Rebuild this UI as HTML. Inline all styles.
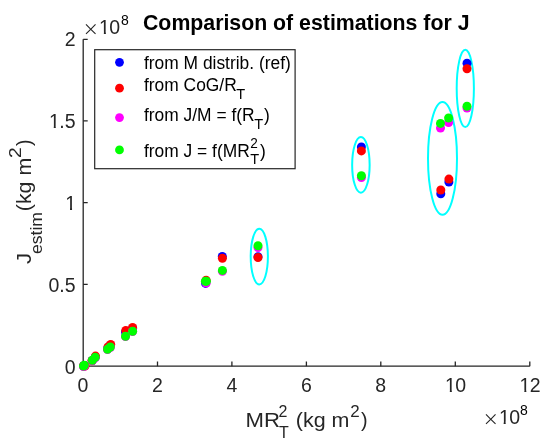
<!DOCTYPE html>
<html><head><meta charset="utf-8"><title>Comparison of estimations for J</title>
<style>
html,body{margin:0;padding:0;background:#fff;width:550px;height:444px;overflow:hidden}
svg{display:block}
text{font-family:"Liberation Sans",Arial,Helvetica,sans-serif;fill:#262626}
.t{font-size:19.5px}
.lg{font-size:17.4px;fill:#000}
.lgs{font-size:13.6px;fill:#000}
.lb{font-size:19.8px}
.lbs{font-size:16px}
.x{font-family:"Noto Sans CJK SC","Liberation Sans",sans-serif;font-size:16px}
.ttl{font-size:21.3px;font-weight:bold;fill:#000}
</style></head><body>
<svg width="550" height="444" viewBox="0 0 550 444">
<defs><clipPath id="c1" clipPathUnits="objectBoundingBox"><path d="M-0.2 -0.2H1.2V0.715H0.625V1.2H0.44V0.715H-0.2Z"/></clipPath></defs>
<rect width="550" height="444" fill="#fff"/>
<!-- axes -->
<g stroke="#262626" stroke-width="1.3" fill="none">
<path d="M83.2 39.3V366.2H529.8"/>
<path d="M83.2 284.3h4.5M83.2 202.6h4.5M83.2 120.9h4.5M83.2 39.3h4.5"/>
<path d="M157.5 366.2v-4.8M231.9 366.2v-4.8M306.4 366.2v-4.8M380.8 366.2v-4.8M455.3 366.2v-4.8M529.8 366.2v-4.8"/>
</g>
<!-- x tick labels -->
<g class="t">
<g id="xt0" transform="translate(0,392.3) scale(1,1.04)"><text x="77.58" y="0">0</text></g>
<g id="xt2" transform="translate(0,392.3) scale(1,1.04)"><text x="152.08" y="0">2</text></g>
<g id="xt4" transform="translate(0,392.3) scale(1,1.04)"><text x="226.48" y="0">4</text></g>
<g id="xt6" transform="translate(0,392.3) scale(1,1.04)"><text x="300.98" y="0">6</text></g>
<g id="xt8" transform="translate(0,392.3) scale(1,1.04)"><text x="375.38" y="0">8</text></g>
<g id="xt10" transform="translate(0,392.3) scale(1,1.04)"><text clip-path="url(#c1)" x="445.06" y="0">1</text><text x="455.30" y="0">0</text></g>
<g id="xt12" transform="translate(0,392.3) scale(1,1.04)"><text clip-path="url(#c1)" x="519.56" y="0">1</text><text x="529.80" y="0">2</text></g>
</g>
<!-- y tick labels -->
<g class="t">
<g id="yt0" transform="translate(0,373.5) scale(1,1.04)"><text x="64.66" y="0">0</text></g>
<g id="yt05" transform="translate(0,291.8) scale(1,1.04)"><text x="48.39" y="0">0</text><text x="59.24" y="0">.</text><text x="64.66" y="0">5</text></g>
<g id="yt1" transform="translate(0,210) scale(1,1.04)"><text clip-path="url(#c1)" x="65.26" y="0">1</text></g>
<g id="yt15" transform="translate(0,128.3) scale(1,1.04)"><text clip-path="url(#c1)" x="48.99" y="0">1</text><text x="59.24" y="0">.</text><text x="64.66" y="0">5</text></g>
<g id="yt2" transform="translate(0,46.1) scale(1,1.04)"><text x="64.66" y="0">2</text></g>
</g>
<!-- exponents -->
<text id="yexx" class="x" x="82.8" y="34.5">×</text><g id="yex10" class="t" transform="translate(0,34) scale(1,1.04)"><text clip-path="url(#c1)" x="99.1" y="0">1</text><text x="109.34" y="0">0</text></g><text id="yex8" class="lgs" style="font-size:14px" x="121" y="24.5">8</text>
<text id="xexx" class="x" x="482.7" y="425.2">×</text><g id="xex10" class="t" transform="translate(0,424) scale(1,1.04)"><text clip-path="url(#c1)" x="498.9" y="0">1</text><text x="509.14" y="0">0</text></g><text id="xex8" class="lgs" style="font-size:14px" x="520" y="414.6">8</text>
<!-- x label -->
<text id="xlMR" class="lb" transform="translate(245.5,426.8) scale(1.12,1.05)">MR</text><text id="xl2" class="lbs" transform="translate(278.5,417) scale(1.0,1.05)">2</text><text id="xlT" class="lbs" transform="translate(279,437.7) scale(1.0,1.05)">T</text><text id="xlkg" class="lb" transform="translate(295.8,426.8) scale(1.085,1.05)">(kg m</text><text id="xl2b" class="lbs" transform="translate(350.2,417) scale(1.06,1.05)">2</text><text id="xlrp" class="lb" transform="translate(361,426.8) scale(1.0,1.05)">)</text>
<!-- y label -->
<g transform="translate(31,262) rotate(-90)">
<text id="ylJ" class="lb" transform="translate(-2,0) scale(1.12,1.05)">J</text><text id="ylest" class="lbs" transform="translate(8,11) scale(1.1,1.05)">estim</text><text id="ylkg" class="lb" transform="translate(50.8,0) scale(1.08,1.05)">(kg m</text><text id="yl2" class="lbs" transform="translate(104,-10.5) scale(1.2,1.05)">2</text><text id="ylrp" class="lb" transform="translate(116,0) scale(1.0,1.05)">)</text>
</g>
<!-- title -->
<text id="ttl" class="ttl" transform="translate(143,30.2) scale(1.0,1.07)">Comparison of estimations for J</text>
<!-- ellipses -->
<g fill="none" stroke="#00ffff" stroke-width="2">
<ellipse cx="259.3" cy="256.6" rx="8.6" ry="27.9"/>
<ellipse cx="360.9" cy="164.9" rx="8.75" ry="27.8"/>
<ellipse cx="442.5" cy="158.4" rx="14.5" ry="56.4"/>
<ellipse cx="465.3" cy="88.45" rx="8.6" ry="38.65"/>
</g>
<!-- series blue -->
<g fill="#0000ff">
<circle cx="83.5" cy="366" r="4.5"/><circle cx="84.5" cy="365.5" r="4.5"/>
<circle cx="92.3" cy="360.5" r="4.5"/><circle cx="95.2" cy="357.3" r="4.5"/>
<circle cx="107.8" cy="348" r="4.5"/><circle cx="110.3" cy="345.5" r="4.5"/>
<circle cx="125.5" cy="332" r="4.5"/><circle cx="132.6" cy="328.5" r="4.5"/>
<circle cx="205.6" cy="283.4" r="4.5"/>
<circle cx="222.3" cy="256.4" r="4.5"/>
<circle cx="258" cy="256.7" r="4.5"/>
<circle cx="361.4" cy="147" r="4.5"/>
<circle cx="440.8" cy="193.7" r="4.5"/>
<circle cx="448.9" cy="182" r="4.5"/>
<circle cx="467" cy="63.3" r="4.5"/>
</g>
<!-- series red -->
<g fill="#ff0000">
<circle cx="83.5" cy="366" r="4.5"/><circle cx="85" cy="366" r="4.5"/>
<circle cx="92" cy="360.8" r="4.5"/><circle cx="95.5" cy="356.1" r="4.5"/>
<circle cx="108" cy="347" r="4.5"/><circle cx="110.7" cy="344.4" r="4.5"/>
<circle cx="125.8" cy="330.5" r="4.5"/><circle cx="132.6" cy="327.4" r="4.5"/>
<circle cx="206.1" cy="280.2" r="4.5"/>
<circle cx="222.4" cy="258.3" r="4.5"/>
<circle cx="258" cy="257.5" r="4.5"/>
<circle cx="361.4" cy="150.9" r="4.5"/>
<circle cx="440.8" cy="190" r="4.5"/>
<circle cx="448.9" cy="179.1" r="4.5"/>
<circle cx="467" cy="68.8" r="4.5"/>
</g>
<!-- series magenta -->
<g fill="#ff00ff">
<circle cx="83.5" cy="366.5" r="4.5"/><circle cx="84.5" cy="366" r="4.5"/>
<circle cx="92.2" cy="360.8" r="4.5"/><circle cx="95.2" cy="357.8" r="4.5"/>
<circle cx="107.5" cy="349.5" r="4.5"/><circle cx="110.3" cy="347.5" r="4.5"/>
<circle cx="125.5" cy="336.5" r="4.5"/><circle cx="132.6" cy="331.5" r="4.5"/>
<circle cx="206.2" cy="283" r="4.5"/>
<circle cx="222.4" cy="271.2" r="4.5"/>
<circle cx="258" cy="247.5" r="4.5"/>
<circle cx="361.4" cy="177.5" r="4.5"/>
<circle cx="440.5" cy="128" r="4.5"/>
<circle cx="448.6" cy="122.5" r="4.5"/>
<circle cx="467" cy="108.1" r="4.5"/>
</g>
<!-- series green -->
<g fill="#00ff00">
<circle cx="83.5" cy="366" r="4.5"/><circle cx="84.3" cy="365.2" r="4.5"/>
<circle cx="92.3" cy="360.3" r="4.5"/><circle cx="95.2" cy="357.3" r="4.5"/>
<circle cx="107.5" cy="349.3" r="4.5"/><circle cx="110.3" cy="347" r="4.5"/>
<circle cx="125.5" cy="336.3" r="4.5"/><circle cx="132.6" cy="331.2" r="4.5"/>
<circle cx="205.4" cy="281.2" r="4.5"/><circle cx="206.4" cy="281.2" r="4.5"/>
<circle cx="222.4" cy="270.4" r="4.5"/>
<circle cx="258" cy="245.8" r="4.5"/>
<circle cx="361.4" cy="175.8" r="4.5"/>
<circle cx="440.5" cy="123.4" r="4.5"/>
<circle cx="448.6" cy="118" r="4.5"/>
<circle cx="467" cy="106.2" r="4.5"/>
</g>
<!-- legend -->
<rect x="94.7" y="49.7" width="200.4" height="119" fill="#fff" stroke="#262626" stroke-width="1.2"/>
<circle cx="119.5" cy="62.3" r="4.4" fill="#0000ff"/>
<circle cx="119.5" cy="88.2" r="4.4" fill="#ff0000"/>
<circle cx="119.5" cy="117.6" r="4.4" fill="#ff00ff"/>
<circle cx="119.5" cy="149.9" r="4.4" fill="#00ff00"/>
<text id="lg1" class="lg" transform="translate(144,69.05) scale(1.0,1.06)">from M distrib. (ref)</text>
<text id="lg2" class="lg" transform="translate(144,90.85) scale(1.0,1.06)">from CoG/R</text><text id="lg2T" class="lgs" style="font-size:14.6px" transform="translate(236.2,98.9) scale(1.0,1.0)">T</text>
<text id="lg3" class="lg" transform="translate(144,120.9) scale(1.0,1.06)">from J/M = f(R</text><text id="lg3T" class="lgs" style="font-size:14.6px" transform="translate(254.2,129.4) scale(1.0,1.0)">T</text><text id="lg3rp" class="lg" transform="translate(264,120.9) scale(1.0,1.06)">)</text>
<text id="lg4" class="lg" transform="translate(144,156.5) scale(1.0,1.06)">from J = f(MR</text><text id="lg42" class="lgs" transform="translate(250.2,147.6) scale(1.0,1.06)">2</text><text id="lg4T" class="lgs" style="font-size:14.6px" transform="translate(250.3,164.4) scale(1.0,1.0)">T</text><text id="lg4rp" class="lg" transform="translate(260,156.5) scale(1.0,1.06)">)</text>
</svg>
</body></html>
